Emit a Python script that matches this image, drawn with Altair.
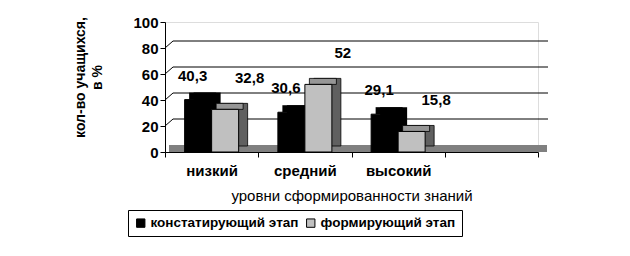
import altair as alt
import pandas as pd

categories = ["низкий", "средний", "высокий"]
series_names = ["констатирующий этап", "формирующий этап"]
konst = [40.3, 30.6, 29.1]
form = [32.8, 52, 15.8]
label_konst = ["40,3", "30,6", "29,1"]
label_form = ["32,8", "52", "15,8"]
y_ticks = [0, 20, 40, 60, 80, 100]
grid_values = [20, 40, 60, 80]
x_title = "уровни сформированности знаний"
y_title = ["кол-во учащихся,", "в %"]

slots = categories + [" "]

rows = []
for c, v, l in zip(categories, konst, label_konst):
    rows.append({"cat": c, "series": series_names[0], "value": v, "label": l})
for c, v, l in zip(categories, form, label_form):
    rows.append({"cat": c, "series": series_names[1], "value": v, "label": l})
df = pd.DataFrame(rows)
grid_df = pd.DataFrame({"g": grid_values})

W, H = 373, 130
FONT = "Liberation Sans"
BW = 27

xenc = alt.X(
    "cat:N",
    scale=alt.Scale(domain=slots, paddingInner=0, paddingOuter=0),
    axis=alt.Axis(
        title=x_title, labelAngle=0, tickBand="extent", tickSize=5,
        labelFontSize=15, labelFontWeight="bold", labelPadding=6,
        titleFontSize=15, titleFontWeight="normal", titlePadding=10,
        domainColor="black", tickColor="black", labelColor="black", titleColor="black",
    ),
)
yscale = alt.Scale(domain=[0, 100])
yaxis = alt.Axis(
    values=y_ticks, grid=False, title=y_title, tickSize=5, labelOverlap=False,
    labelFontSize=15, labelFontWeight="bold", labelPadding=2,
    titleFontSize=14, titleFontWeight="bold", titleAngle=-90, titleLineHeight=17,
    titleX=-78, titleY=55, titleAlign="center", titleBaseline="bottom",
    domainColor="black", tickColor="black", labelColor="black", titleColor="black",
)
yenc = alt.Y("value:Q", scale=yscale, axis=yaxis)
genc = alt.Y("g:Q", scale=yscale, axis=yaxis)

base = alt.Chart(df)

grid_back = alt.Chart(grid_df).mark_rule(color="black", strokeWidth=1, yOffset=-7, xOffset=8, x2Offset=10).encode(
    y=genc, x=alt.value(0), x2=alt.value(W)
)
grid_diag = alt.Chart(grid_df).mark_rule(color="black", strokeWidth=1, y2Offset=-7).encode(
    y=genc, y2="g:Q", x=alt.value(0), x2=alt.value(8)
)
floor = alt.Chart(grid_df).mark_rect(color="#808080", xOffset=4, x2Offset=9, yOffset=-7).encode(
    y=alt.datum(0, scale=yscale, axis=yaxis), y2=alt.datum(0), x=alt.value(0), x2=alt.value(W)
)

k = base.transform_filter(alt.datum.series == series_names[0])
f = base.transform_filter(alt.datum.series == series_names[1])

color = alt.Color(
    "series:N",
    scale=alt.Scale(domain=series_names, range=["#000000", "#C0C0C0"]),
    legend=alt.Legend(
        title=None, orient="none", legendX=-37, legendY=188, direction="horizontal",
        strokeColor="black", padding=6, symbolType="square", symbolSize=70,
        symbolStrokeColor="black", symbolStrokeWidth=1, labelFontSize=13.5,
        labelFontWeight="bold", labelColor="black", columnPadding=5, labelOffset=3,
    ),
)

k_side = k.mark_bar(width=BW, xOffset=-BW / 2 + 9, yOffset=-7, y2Offset=-7, color="black").encode(x=xenc, y=yenc)
k_top = k.mark_bar(width=BW, xOffset=-BW / 2 + 4.5, yOffset=-7, color="black").encode(x=xenc, y=yenc, y2="value:Q")
k_front = k.mark_bar(width=BW, xOffset=-BW / 2, stroke="black", strokeWidth=1).encode(x=xenc, y=yenc, color=color)

f_side = f.mark_bar(width=BW, xOffset=BW / 2 + 9, yOffset=-6, y2Offset=-6, color="#606060", stroke="black", strokeWidth=0.8).encode(x=xenc, y=yenc)
f_top = f.mark_bar(width=BW, xOffset=BW / 2 + 4.5, yOffset=-6, color="#969696", stroke="black", strokeWidth=0.8).encode(
    x=xenc, y=yenc, y2="value:Q"
)
f_front = f.mark_bar(width=BW, xOffset=BW / 2, stroke="black", strokeWidth=1).encode(x=xenc, y=yenc, color=color)

k_text = k.mark_text(font=FONT, fontSize=15, fontWeight="bold", color="black", dx=-19, dy=-24, baseline="middle").encode(
    x=xenc, y=yenc, text="label:N"
)
f_text = f.mark_text(font=FONT, fontSize=15, fontWeight="bold", color="black", dx=38, dy=-31, baseline="middle").encode(
    x=xenc, y=yenc, text="label:N"
)

chart = alt.layer(
    grid_back, grid_diag, floor, k_side, k_top, k_front, f_side, f_top, f_front, k_text, f_text
).properties(
    width=W, height=H,
    autosize=alt.AutoSizeParams(type="none"),
    padding={"left": 165, "top": 22, "right": 630 - 165 - W, "bottom": 256 - 22 - H},
    background="white",
).configure_view(stroke=None).configure(font=FONT).configure_axis(labelFont=FONT, titleFont=FONT).configure_legend(labelFont=FONT)

chart.save("out.html", embed_options={"renderer": "svg", "actions": False})
